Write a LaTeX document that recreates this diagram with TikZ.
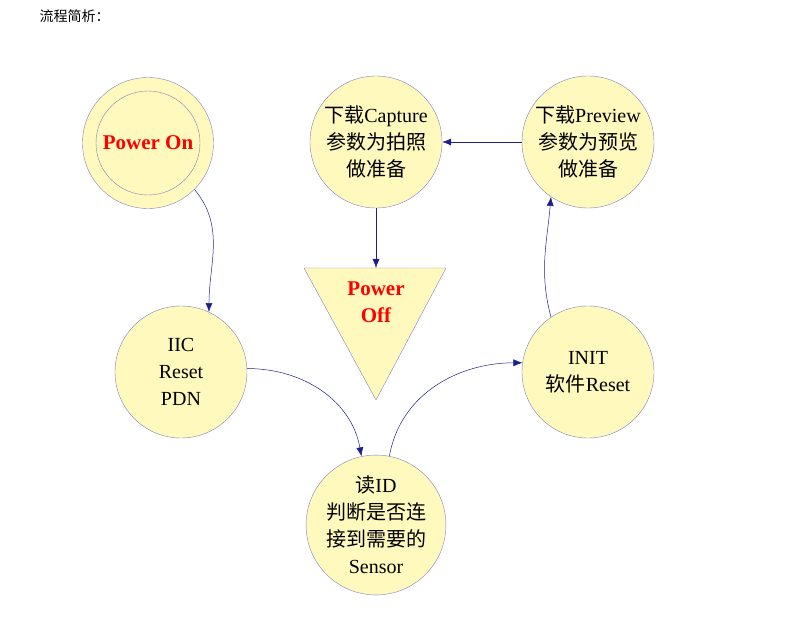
\documentclass[tikz,border=0pt]{standalone}
\usepackage{fontspec}
\setmainfont{Liberation Serif}
\newfontfamily\cjk{Noto Sans CJK SC}
\usetikzlibrary{arrows.meta}
\definecolor{fillY}{RGB}{255,249,190}
\definecolor{edgeB}{RGB}{130,130,190}
\definecolor{arrB}{RGB}{30,30,140}
\tikzset{
 st/.style={circle,draw=edgeB,fill=fillY,minimum size=132pt,inner sep=0pt,align=center,font=\fontsize{20}{27}\selectfont},
 conn/.style={draw=arrB,line width=0.5pt,-{Latex[length=9pt,width=7pt]}},
 red/.style={text=red,font=\fontsize{21}{27}\selectfont\bfseries}
}
\begin{document}
\begin{tikzpicture}[x=1pt,y=-1pt]
\useasboundingbox (0,0) rectangle (795,620);
\node[anchor=west,font=\fontsize{14}{16}\selectfont\cjk] (title) at (36,16) {流程简析：};
\node[st,minimum size=131pt] (po) at (148,143) {};
\node[circle,draw=edgeB,minimum size=104pt,inner sep=0pt,red] (poin) at (148,143) {Power On};
\node[st] (cap) at (376,142) {{\cjk 下载}Capture\\{\cjk 参数为拍照}\\{\cjk 做准备}};
\node[st] (pre) at (588,142) {{\cjk 下载}Preview\\{\cjk 参数为预览}\\{\cjk 做准备}};
\node[st] (iic) at (181,372) {IIC\\Reset\\PDN};
\node[st] (init) at (588,372) {INIT\\{\cjk 软件}Reset};
\node[st] (id) at (376,525) {{\cjk 读}ID\\{\cjk 判断是否连}\\{\cjk 接到需要的}\\Sensor};
\draw[draw=edgeB,fill=fillY] (304,268) -- (446,268) -- (376,400) -- cycle;
\coordinate (offtop) at (376,268);
\node[red,align=center] (off) at (376,302) {Power\\Off};
\draw[conn] (po.-45) to[out=-50,in=90] (iic.65);
\draw[conn] (cap.south) -- (offtop);
\draw[conn] (pre.west) -- (cap.east);
\draw[conn] (iic.3) to[out=0,in=100] (id.102);
\draw[conn] (id.79) to[out=80,in=180] (init.172);
\draw[conn] (init.124) to[out=105,in=-95] (pre.-124);
\end{tikzpicture}
\end{document}
